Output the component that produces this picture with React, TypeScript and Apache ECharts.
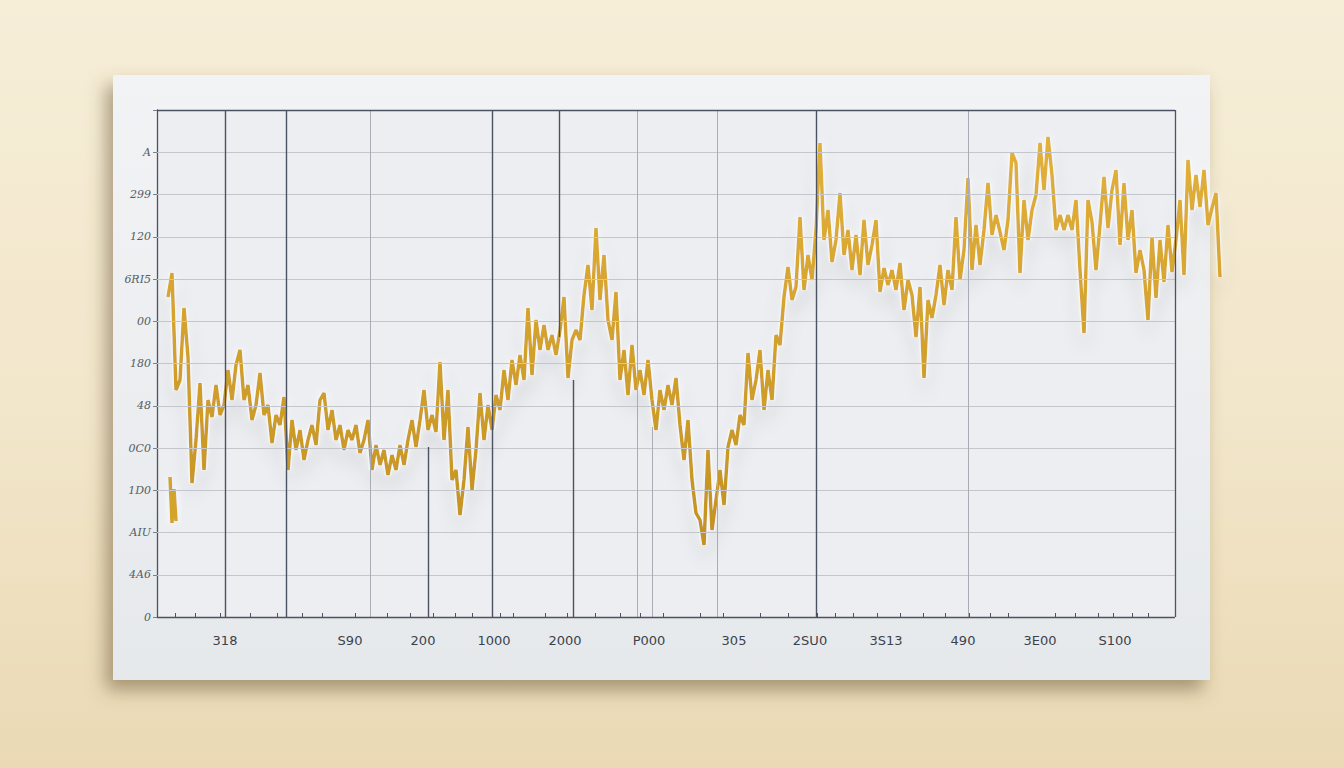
import React, { useEffect, useRef } from "react";
import * as echarts from "echarts";

// Series heights (chart units, 0..507), sampled every 4 units from x = 11
const values = [
  320, 344, 227, 237, 309, 260, 134, 177, 234, 147,
  217, 200, 232, 202, 212, 247, 217, 252, 267, 217,
  232, 197, 212, 244, 202, 212, 174, 202, 192, 220,
  147, 197, 167, 187, 157, 177, 192, 172, 217, 224,
  187, 207, 177, 192, 167, 187, 177, 192, 164, 177,
  197, 147, 172, 152, 167, 142, 162, 147, 172, 152,
  177, 197, 170, 197, 227, 187, 202, 185, 255, 177,
  227, 137, 147, 102, 137, 190, 127, 167, 224, 177,
  212, 187, 222, 207, 247, 217, 257, 232, 262, 237,
  309, 242, 297, 267, 292, 267, 282, 262, 287, 320,
  239, 277, 287, 277, 322, 352, 307, 389, 317, 362,
  297, 277, 325, 237, 267, 222, 272, 227, 247, 222,
  257, 217, 187, 227, 207, 232, 212, 239, 192, 157,
  197, 137, 104, 97, 72, 167, 87, 117, 147, 112,
  170, 187, 172, 202, 192, 264, 217, 237, 267, 207,
  247, 217, 282, 272, 320, 350, 317, 330, 400, 327,
  362, 337, 387, 474, 377, 407, 355, 377, 424, 362,
  387, 347, 382, 342, 397, 352, 372, 397, 325, 349,
  332, 347, 327, 354, 307, 337, 322, 280, 330, 239,
  317, 299, 322, 352, 312, 347, 327, 400, 337, 367,
  439, 347, 392, 352, 387, 434, 382, 402, 385, 367,
  397, 464, 454, 344, 417, 377, 407, 422, 474, 427,
  480, 442, 387, 402, 387, 402, 387, 417, 347, 284,
  417, 395, 347, 392, 440, 389, 427, 447, 372, 434,
  377, 407, 344, 367, 347, 297, 380, 319, 377, 335,
  392, 345, 377, 417, 342, 457, 407, 442, 410, 447,
  392, 409, 424, 340,
];
const firstX = 11;
const stepX = 4;

// small detached fragment near the start
const islandX = [13, 15, 17, 19];
const islandValues = [140, 94, 128, 96];

const yMax = 507;
const yStep = 42.25;
const yTickLabels = ["0", "4A6", "AIU", "1D0", "0C0", "48", "180", "00", "6RI5", "120", "299", "A", ""];

const frameEnd = 1018; // right edge of the framed plot
const xMax = 1080; // the trace runs past the frame
const xLabelPositions = [68, 193, 266, 337, 408, 492, 577, 653, 729, 806, 883, 958];
const xLabels = ["318", "S90", "200", "1000", "2000", "P000", "305", "2SU0", "3S13", "490", "3E00", "S100"];
const xTickPositions = [
  18, 38, 63, 93, 120, 145, 165, 198, 230, 253, 276, 298, 315, 343, 356, 388, 410, 438, 463, 483,
  506, 543, 566, 603, 631, 660, 678, 696, 720, 743, 766, 788, 812, 833, 851, 898, 918, 941, 956, 975, 991,
];

// vertical rules: x, from, to, dark(1)/light(0)
const ruleX = [68, 129, 213, 271, 335, 402, 416, 480, 495, 560, 659, 811];
const ruleFrom = [0, 0, 0, 0, 0, 280, 0, 0, 0, 0, 0, 0];
const ruleTo = [507, 507, 507, 170, 507, 507, 237, 507, 190, 507, 507, 507];
const ruleDark = [1, 1, 0, 1, 1, 1, 1, 0, 0, 0, 1, 0];

export default function App() {
  const ref = useRef<HTMLDivElement>(null);
  useEffect(() => {
    if (!ref.current) return;
    const chart = echarts.init(ref.current, null, { renderer: "svg" });
    const lineData = values.map((v, i) => [firstX + i * stepX, v]);
    const islandData = islandX.map((x, i) => [x, islandValues[i]]);
    const labelMap = new Map<number, string>();
    xLabelPositions.forEach((p, i) => labelMap.set(p, xLabels[i]));

    const dark = "#4b5262";
    const light = "#a8adb5";
    const rules: any[] = [];
    for (let i = 1; i < yTickLabels.length - 1; i++) {
      rules.push([
        { coord: [0, i * yStep], lineStyle: { color: "#c3c7cd", width: 1, type: "solid" } },
        { coord: [frameEnd, i * yStep] },
      ]);
    }
    ruleX.forEach((x, i) => {
      rules.push([
        {
          coord: [x, ruleFrom[i]],
          lineStyle: { color: ruleDark[i] ? dark : light, width: ruleDark[i] ? 1.4 : 1, type: "solid" },
        },
        { coord: [x, ruleTo[i]] },
      ]);
    });
    rules.push([{ coord: [0, 0], lineStyle: { color: dark, width: 1.3, type: "solid" } }, { coord: [frameEnd, 0] }]);
    rules.push([{ coord: [0, yMax], lineStyle: { color: dark, width: 1.3, type: "solid" } }, { coord: [frameEnd, yMax] }]);
    rules.push([{ coord: [frameEnd, 0], lineStyle: { color: dark, width: 1.3, type: "solid" } }, { coord: [frameEnd, yMax] }]);

    chart.setOption({
      animation: false,
      backgroundColor: "transparent",
      graphic: [
        {
          type: "rect",
          z: -100,
          shape: { x: 113, y: 75, width: 1097, height: 605 },
          style: {
            fill: new echarts.graphic.LinearGradient(0, 0, 0, 1, [
              { offset: 0, color: "#f2f3f5" },
              { offset: 1, color: "#e6e9ec" },
            ]),
            shadowBlur: 18,
            shadowColor: "rgba(95,75,40,0.5)",
            shadowOffsetX: -7,
            shadowOffsetY: 10,
          },
        },
        {
          type: "rect",
          z: -99,
          shape: { x: 157, y: 110, width: 1018, height: 507 },
          style: { fill: "#eceef1" },
        },
      ],
      grid: {
        left: 157,
        top: 110,
        width: 1080,
        height: 507,
        show: false,
      },
      xAxis: {
        type: "value",
        min: 0,
        max: xMax,
        splitLine: { show: false },
        axisLine: { show: false },
        axisTick: {
          show: true,
          inside: true,
          length: 4,
          customValues: xTickPositions,
          lineStyle: { color: dark },
        },
        axisLabel: {
          customValues: xLabelPositions,
          formatter: (v: number) => labelMap.get(v) ?? "",
          color: "#3c424c",
          fontSize: 13,
          fontFamily: "DejaVu Sans",
          margin: 17,
        },
      },
      yAxis: {
        type: "value",
        min: 0,
        max: yMax,
        interval: yStep,
        axisLine: { show: true, lineStyle: { color: dark, width: 1.3 } },
        axisTick: { show: true, length: 4, lineStyle: { color: "#7a808a" } },
        axisLabel: {
          formatter: (v: number) => yTickLabels[Math.round(v / yStep)] ?? "",
          color: "#565c66",
          fontSize: 11,
          fontStyle: "italic",
          fontFamily: "DejaVu Serif",
          margin: 6,
        },
        splitLine: { show: false },
      },
      series: [
        {
          type: "line",
          data: [],
          silent: true,
          z: 1,
          markLine: {
            silent: true,
            symbol: ["none", "none"],
            label: { show: false },
            animation: false,
            data: rules,
          },
        },
        {
          type: "line",
          data: lineData,
          showSymbol: false,
          silent: true,
          z: 2,
          lineStyle: {
            color: "rgba(255,255,255,0.35)",
            width: 6,
            shadowColor: "rgba(40,40,50,0.22)",
            shadowBlur: 18,
            shadowOffsetY: 14,
          },
        },
        {
          type: "line",
          data: lineData,
          showSymbol: false,
          z: 3,
          lineStyle: {
            color: new echarts.graphic.LinearGradient(0, 0, 0, 1, [
              { offset: 0, color: "#e2b13a" },
              { offset: 1, color: "#c39220" },
            ]),
            width: 3.5,
            shadowColor: "rgba(255,255,255,0.9)",
            shadowBlur: 10,
          },
        },
        {
          type: "line",
          data: islandData,
          showSymbol: false,
          z: 3,
          lineStyle: {
            color: "#d4a42a",
            width: 3.5,
            shadowColor: "rgba(255,255,255,0.9)",
            shadowBlur: 10,
          },
        },
      ],
    });
    return () => chart.dispose();
  }, []);

  return (
    <div
      ref={ref}
      style={{
        position: "absolute",
        left: 0,
        top: 0,
        width: 1344,
        height: 768,
        background: "linear-gradient(180deg, #f6eed8 0%, #f2e6ca 55%, #ead9b4 100%)",
      }}
    />
  );
}
